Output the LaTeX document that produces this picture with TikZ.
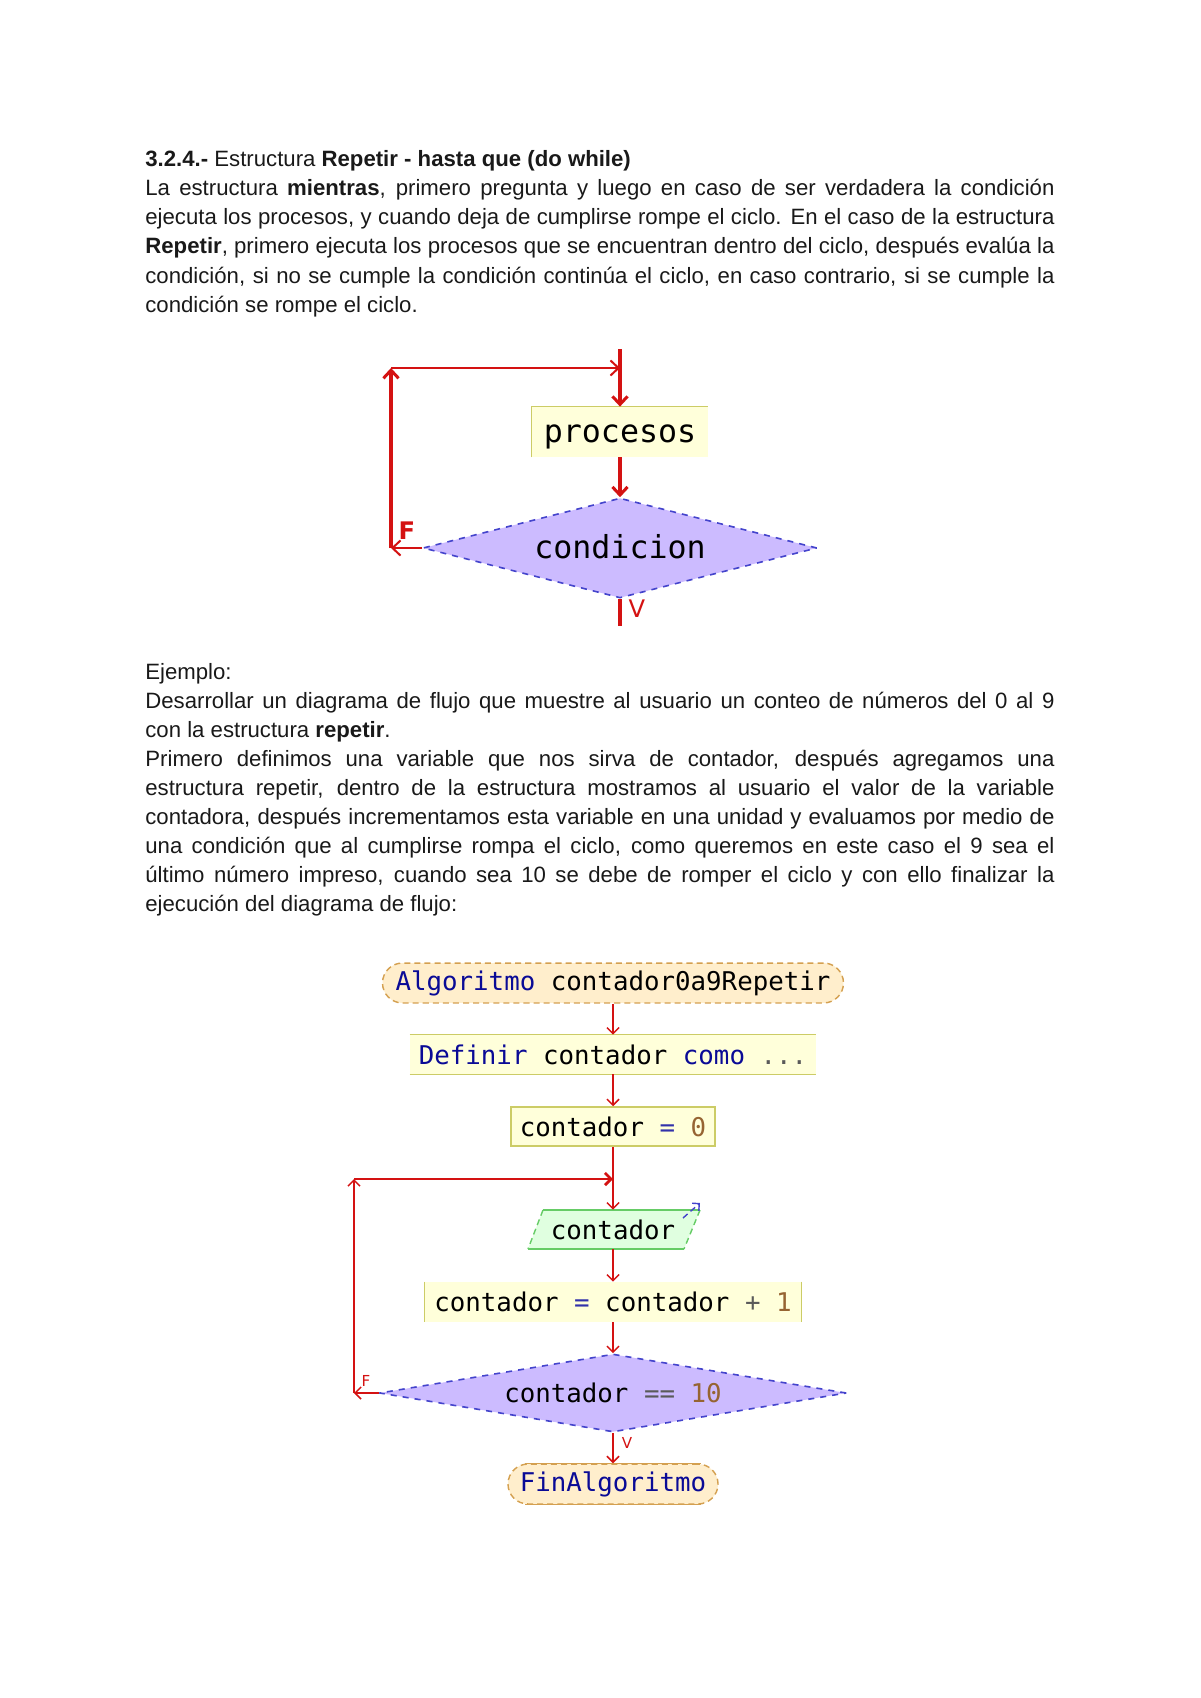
\documentclass[tikz,border=0pt]{standalone}
\usepackage{fontspec}
\setmainfont{Liberation Sans}
\newfontfamily\codefont{DejaVu Sans Mono}
\newfontfamily\labfont{DejaVu Sans}
\usetikzlibrary{shapes.geometric,arrows.meta}
\definecolor{lred}{RGB}{212,18,18}
\definecolor{procfill}{RGB}{255,255,218}
\definecolor{procdraw}{RGB}{204,204,102}
\definecolor{termfill}{RGB}{255,238,204}
\definecolor{termdraw}{RGB}{212,160,80}
\definecolor{decfill}{RGB}{204,187,255}
\definecolor{decdraw}{RGB}{68,68,204}
\definecolor{outfill}{RGB}{224,255,224}
\definecolor{outdraw}{RGB}{102,204,102}
\definecolor{kwblue}{RGB}{10,10,150}
\definecolor{opblue}{RGB}{50,50,170}
\definecolor{numbrown}{RGB}{150,100,50}
\definecolor{opgray}{RGB}{90,90,90}
\definecolor{bodytext}{RGB}{25,25,25}
\newcommand\justline[1]{\makebox[451pt][s]{#1}}
\begin{document}
\begin{tikzpicture}[x=0.4961pt,y=-0.4961pt,
  body/.style={anchor=base west, inner sep=0pt, text=bodytext, font=\fontsize{11}{13}\selectfont},
  bigcode/.style={font=\codefont\fontsize{15.7}{18}\selectfont, text height=10pt, text depth=0pt},
  code/.style={font=\codefont\fontsize{12.8}{15}\selectfont},
  redthick/.style={draw=lred, line width=1.5pt},
  redthin/.style={draw=lred, line width=1pt},
  bigtip/.style={-{Straight Barb[length=4pt,width=7.5pt]}},
  arr/.style={draw=lred, line width=0.75pt, -{Straight Barb[length=3pt,width=6pt]}},
  procbox/.style={rectangle, fill=procfill, inner sep=0pt},
  decbox/.style={diamond, aspect=5, fill=decfill, draw=decdraw, dashed, line width=0.8pt, inner sep=0pt},
  termbox/.style={rectangle, rounded corners=9.9pt, fill=termfill, draw=termdraw, densely dashed, line width=0.7pt, inner sep=0pt},
  lab/.style={text=lred, font=\labfont\fontsize{11}{12}\selectfont, inner sep=0pt}
]
\useasboundingbox (0,0) rectangle (1200,1698);

% ---------- paragraph 1 ----------
\node[body] (p1a) at (145,166) {\textbf{3.2.4.-} Estructura \textbf{Repetir - hasta que (do while)}};
\node[body] (p1b) at (145,195) {\justline{La estructura \textbf{mientras}, primero pregunta y luego en caso de ser verdadera la condición}};
\node[body] (p1c) at (145,224) {\justline{ejecuta los procesos, y cuando deja de cumplirse rompe el ciclo. En el caso de la estructura}};
\node[body] (p1d) at (145,253) {\justline{\textbf{Repetir}, primero ejecuta los procesos que se encuentran dentro del ciclo, después evalúa la}};
\node[body] (p1e) at (145,283) {\justline{condición, si no se cumple la condición continúa el ciclo, en caso contrario, si se cumple la}};
\node[body] (p1f) at (145,312) {condición se rompe el ciclo.};

% ---------- diagram 1 ----------
\node[procbox, minimum width=87.3pt, minimum height=24.8pt, bigcode] (proc) at (620,432) {procesos};
\draw[procdraw, line width=0.8pt] (proc.south west) -- (proc.north west) -- (proc.north east);
\node[decbox, minimum width=195.5pt, minimum height=49.6pt, bigcode] (cond) at (620,548) {condicion};
\coordinate (in1) at (620,349);
\coordinate (fl1) at (391,548);
\coordinate (tl1) at (391,368);
\coordinate (mt1) at (620,368);
\coordinate (out1) at (620,626);
\draw[redthick, bigtip] (in1) -- (proc.north);
\draw[redthick, bigtip] (proc.south) -- (cond.north);
\draw[redthin, bigtip] (cond.west) -- (fl1);
\draw[redthick, bigtip] (fl1) -- (tl1);
\draw[redthin, bigtip] (tl1) -- (mt1);
\draw[redthick] (cond.south) -- (out1);
\node[lab, font=\labfont\bfseries\fontsize{12}{13}\selectfont] (F1) at (407,531) {F};
\node[lab, font=\labfont\fontsize{12}{13}\selectfont] (V1) at (637,609) {V};

% ---------- paragraph 2 ----------
\node[body] (p2a) at (145,679) {Ejemplo:};
\node[body] (p2b) at (145,708) {\justline{Desarrollar un diagrama de flujo que muestre al usuario un conteo de números del 0 al 9}};
\node[body] (p2c) at (145,737) {con la estructura \textbf{repetir}.};
\node[body] (p2d) at (145,766) {\justline{Primero definimos una variable que nos sirva de contador, después agregamos una}};
\node[body] (p2e) at (145,795) {\justline{estructura repetir, dentro de la estructura mostramos al usuario el valor de la variable}};
\node[body] (p2f) at (145,824) {\justline{contadora, después incrementamos esta variable en una unidad y evaluamos por medio de}};
\node[body] (p2g) at (145,853) {\justline{una condición que al cumplirse rompa el ciclo, como queremos en este caso el 9 sea el}};
\node[body] (p2h) at (145,882) {\justline{último número impreso, cuando sea 10 se debe de romper el ciclo y con ello finalizar la}};
\node[body] (p2i) at (145,911) {ejecución del diagrama de flujo:};

% ---------- diagram 2 ----------
\node[termbox, minimum width=228.7pt, minimum height=19.8pt, code] (alg) at (613,983)
  {\textcolor{kwblue}{Algoritmo} contador0a9Repetir};
\node[procbox, minimum width=201.4pt, minimum height=19.3pt, code] (def) at (613,1054.5)
  {\textcolor{kwblue}{Definir} contador \textcolor{kwblue}{como} \textcolor{opgray}{...}};
\draw[procdraw, line width=0.8pt] (def.north west) -- (def.north east);
\draw[procdraw, line width=0.8pt] (def.south west) -- (def.south east);
\node[procbox, draw=procdraw, line width=0.8pt, minimum width=101.2pt, minimum height=19.3pt, code] (ini) at (613,1126.5)
  {contador \textcolor{opblue}{=} \textcolor{numbrown}{0}};
% output parallelogram
\fill[outfill] (543,1210) -- (700,1210) -- (684,1249) -- (528,1249) -- cycle;
\draw[outdraw, line width=0.7pt] (543,1210) -- (700,1210);
\draw[outdraw, line width=0.7pt] (528,1249) -- (684,1249);
\draw[outdraw, densely dashed, line width=0.7pt] (543,1210) -- (528,1249);
\draw[outdraw, densely dashed, line width=0.7pt] (700,1210) -- (684,1249);
\node[inner sep=0pt, minimum width=77pt, minimum height=19.3pt, code] (outp) at (613,1229.5) {contador};
\coordinate (ob1) at (683,1218);
\coordinate (ob2) at (700,1203);
\draw[decdraw, line width=0.7pt, densely dashed, -{Straight Barb[length=2.5pt,width=5pt]}] (ob1) -- (ob2);
\node[procbox, minimum width=186.5pt, minimum height=19.8pt, code] (inc) at (613,1302)
  {contador \textcolor{opblue}{=} contador \textcolor{opgray}{+} \textcolor{numbrown}{1}};
\draw[procdraw, line width=0.8pt] (inc.north west) -- (inc.south west);
\draw[procdraw, line width=0.8pt] (inc.north east) -- (inc.south east);
\node[decbox, minimum width=231.7pt, minimum height=38.7pt, code] (cnd) at (613,1393)
  {contador \textcolor{opgray}{==} \textcolor{numbrown}{10}};
\node[termbox, minimum width=104.2pt, minimum height=19.8pt, code] (fin) at (613,1484)
  {\textcolor{kwblue}{FinAlgoritmo}};
\draw[termdraw, line width=0.8pt] ([xshift=9pt]fin.north west) -- ([xshift=-9pt]fin.north east);
\draw[termdraw, line width=0.8pt] ([xshift=9pt]fin.south west) -- ([xshift=-9pt]fin.south east);

\coordinate (fl2) at (354,1393);
\coordinate (tl2) at (354,1179);
\coordinate (mt2) at (613,1179);
\draw[arr] (alg.south) -- (def.north);
\draw[arr] (def.south) -- (ini.north);
\draw[arr] (ini.south) -- (outp.north);
\draw[arr] (outp.south) -- (inc.north);
\draw[arr] (inc.south) -- (cnd.north);
\draw[arr] (cnd.west) -- (fl2);
\draw[arr] (fl2) -- (tl2);
\draw[arr, line width=1.4pt] (tl2) -- (mt2);
\draw[arr] (cnd.south) -- (fin.north);
\node[lab, font=\labfont\fontsize{7.5}{8}\selectfont] (F2) at (366,1381) {F};
\node[lab, font=\labfont\fontsize{7.5}{8}\selectfont] (V2) at (627,1443) {V};
\end{tikzpicture}
\end{document}
